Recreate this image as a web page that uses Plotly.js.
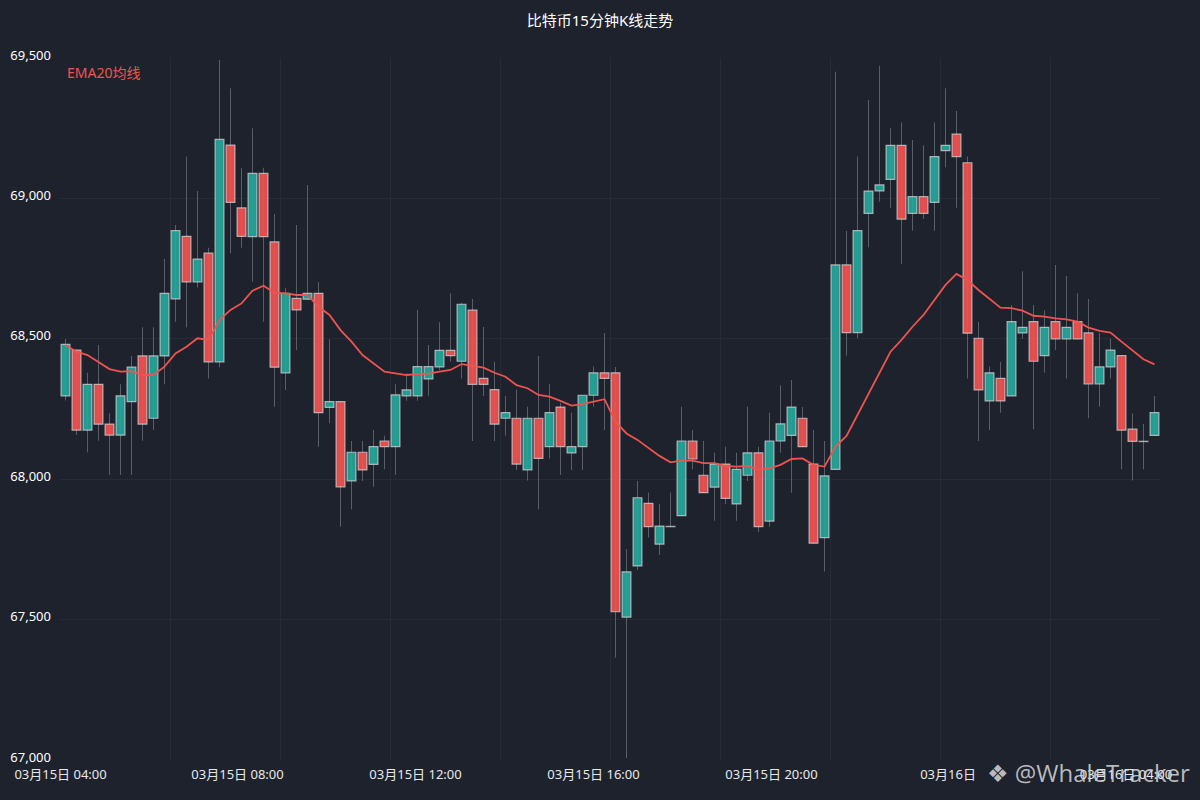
<!DOCTYPE html>
<html>
<head>
<meta charset="utf-8">
<script src="https://cdn.plot.ly/plotly-3.0.1.min.js"></script>
<style>
  html, body { margin: 0; padding: 0; background: #1e222d; }
  #chart { width: 1200px; height: 800px; }
</style>
</head>
<body>
<div id="chart"></div>
<script>
// 15分钟K线, 100 根
var open_px = [
    68297, 68460, 68175, 68338, 68196, 68157, 68276, 68439, 68217, 68439,
    68642, 68865, 68703, 68805, 68418, 69190, 68966, 68864, 69089, 68845,
    68379, 68644, 68641, 68662, 68256, 68276, 67994, 68096, 68053, 68136,
    68116, 68297, 68297, 68357, 68400, 68459, 68420, 68602, 68359, 68319,
    68217, 68217, 68033, 68217, 68116, 68257, 68094, 68116, 68299, 68379,
    68379, 67509, 67691, 67914, 67769, 67831, 67870, 68136, 68014, 67972,
    68054, 67912, 68014, 68094, 67851, 68136, 68156, 68217, 68054, 67792,
    68035, 68763, 68522, 68947, 69027, 69068, 69189, 68947, 69006, 68986,
    69170, 69229, 69127, 68502, 68279, 68359, 68297, 68521, 68561, 68440,
    68561, 68500, 68561, 68521, 68339, 68400, 68440, 68178, 68134, 68156
];
var high_px = [
    68499, 68462, 68379, 68478, 68235, 68338, 68439, 68541, 68541, 68784,
    68905, 69149, 69026, 68824, 69493, 69392, 69107, 69250, 69109, 68944,
    68682, 68905, 69048, 68701, 68498, 68278, 68136, 68136, 68175, 68155,
    68338, 68377, 68603, 68478, 68559, 68662, 68628, 68642, 68542, 68418,
    68296, 68319, 68258, 68439, 68338, 68272, 68237, 68300, 68401, 68521,
    68400, 67751, 67994, 67953, 67912, 67953, 68258, 68175, 68136, 68094,
    68116, 68094, 68258, 68116, 68237, 68335, 68353, 68257, 68175, 68136,
    69451, 68884, 69149, 69350, 69472, 69250, 69270, 69208, 69189, 69270,
    69392, 69311, 69149, 68561, 68401, 68417, 68620, 68741, 68620, 68602,
    68763, 68724, 68662, 68642, 68521, 68500, 68442, 68235, 68197, 68296
];
var low_px = [
    68280, 68157, 68096, 68137, 68015, 68015, 68015, 68137, 68175, 68338,
    68561, 68541, 68683, 68359, 68399, 68805, 68824, 68703, 68561, 68258,
    68318, 68460, 68638, 68116, 68199, 67831, 67893, 67994, 67973, 68035,
    68015, 68279, 68279, 68297, 68389, 68418, 68359, 68136, 68296, 68136,
    68155, 68033, 67995, 67893, 68074, 68015, 68033, 68033, 68258, 68175,
    67364, 67007, 67677, 67792, 67730, 67830, 67869, 68035, 67951, 67852,
    67912, 67852, 67994, 67812, 67831, 68094, 67952, 68115, 67769, 67671,
    68033, 68440, 68502, 68826, 68988, 68967, 68766, 68885, 68927, 68885,
    69111, 68967, 68359, 68136, 68175, 68237, 68296, 68500, 68178, 68379,
    68460, 68359, 68499, 68217, 68258, 68359, 68035, 67995, 68035, 68154
];
var close_px = [
    68480, 68175, 68338, 68196, 68157, 68297, 68399, 68196, 68439, 68662,
    68885, 68703, 68784, 68418, 69210, 68986, 68865, 69089, 68864, 68399,
    68662, 68603, 68662, 68237, 68276, 67973, 68096, 68033, 68116, 68116,
    68300, 68318, 68401, 68401, 68459, 68440, 68623, 68338, 68338, 68196,
    68237, 68054, 68217, 68074, 68237, 68116, 68116, 68299, 68379, 68359,
    67528, 67670, 67934, 67831, 67833, 67832, 68136, 68072, 67952, 68054,
    67932, 68035, 68094, 67831, 68136, 68197, 68257, 68116, 67772, 68012,
    68763, 68522, 68885, 69026, 69048, 69189, 68926, 69006, 68947, 69149,
    69189, 69149, 68520, 68318, 68379, 68279, 68561, 68541, 68420, 68541,
    68500, 68541, 68500, 68339, 68400, 68460, 68175, 68135, 68135, 68237
];
var ema20 = [
    68478, 68454, 68442, 68418, 68392, 68383, 68385, 68371, 68371, 68401,
    68448, 68472, 68502, 68496, 68567, 68603, 68626, 68671, 68689, 68664,
    68662, 68656, 68656, 68614, 68585, 68531, 68490, 68442, 68413, 68383,
    68377, 68371, 68374, 68376, 68383, 68389, 68410, 68403, 68397, 68379,
    68365, 68335, 68324, 68300, 68294, 68279, 68262, 68267, 68276, 68285,
    68205, 68163, 68140, 68110, 68083, 68060, 68066, 68066, 68057, 68057,
    68047, 68045, 68047, 68033, 68039, 68051, 68072, 68074, 68051, 68045,
    68116, 68154, 68229, 68306, 68383, 68454, 68496, 68543, 68585, 68638,
    68692, 68731, 68709, 68674, 68641, 68611, 68609, 68600, 68582, 68579,
    68573, 68569, 68561, 68540, 68528, 68522, 68490, 68458, 68427, 68409
];

var tick_pos = [-0.45, 15.64, 31.82, 48.0, 64.18, 80.23, 96.4];
var tick_labels = [
    "03月15日 04:00", "03月15日 08:00", "03月15日 12:00", "03月15日 16:00",
    "03月15日 20:00", "03月16日", "03月16日 04:00"
];

var up_color = "#26a69a";
var down_color = "#ef5350";

var idx = [], body_base = [], body_len = [], body_col = [], wick_len = [];
for (var i = 0; i < open_px.length; i++) {
    idx.push(i);
    body_base.push(Math.min(open_px[i], close_px[i]));
    body_len.push(Math.abs(close_px[i] - open_px[i]));
    body_col.push(close_px[i] >= open_px[i] ? up_color : down_color);
    wick_len.push(high_px[i] - low_px[i]);
}

var wicks = {
    type: "bar",
    x: idx,
    base: low_px,
    y: wick_len,
    width: 0.09,
    marker: { color: "#5b5f6a", line: { width: 0 } },
    hoverinfo: "skip",
};

var bodies = {
    type: "bar",
    x: idx,
    base: body_base,
    y: body_len,
    width: 0.8,
    opacity: 0.93,
    marker: {
        color: body_col,
        line: { color: "rgba(225,225,225,0.75)", width: 1.2 },
    },
    hoverinfo: "skip",
};

var ema_line = {
    type: "scatter",
    mode: "lines",
    x: idx,
    y: ema20,
    line: { color: "#ef5350", width: 1.8 },
    hoverinfo: "skip",
};

var layout = {
    width: 1200,
    height: 800,
    paper_bgcolor: "#1e222d",
    plot_bgcolor: "#1e222d",
    margin: { l: 60, r: 40, t: 58, b: 40 },
    showlegend: false,
    hovermode: false,
    barmode: "overlay",
    font: { family: 'Noto Sans, "Noto Sans CJK SC", sans-serif', color: "#e8e8e8", size: 13 },
    title: {
        text: "比特币15分钟K线走势",
        font: { size: 15, color: "#ffffff" },
        x: 0.5,
        xanchor: "center",
        y: 0.974,
        yanchor: "middle",
    },
    xaxis: {
        range: [-0.5, 99.5],
        tickmode: "array",
        tickvals: tick_pos,
        ticktext: tick_labels,
        ticks: "",
        showgrid: false,
        zeroline: false,
        showline: false,
        ticklabelstandoff: 5,
        ticklabeloverflow: "allow",
        tickfont: { size: 13, color: "#e8e8e8" },
        minor: {
            tickmode: "linear",
            tick0: -0.5,
            dtick: 10,
            showgrid: true,
            gridcolor: "#272b37",
            gridwidth: 1,
            ticks: "",
        },
    },
    yaxis: {
        range: [67000, 69500],
        dtick: 500,
        tick0: 67000,
        tickformat: ",",
        showgrid: true,
        gridcolor: "#272b37",
        zeroline: false,
        ticks: "",
        ticklabelstandoff: 8,
        ticklabelshift: -3,
        ticklabeloverflow: "allow",
        tickfont: { size: 13, color: "#ffffff" },
    },
    annotations: [
        {
            text: "EMA20均线",
            xref: "paper", yref: "paper",
            x: 0.0045, y: 0.98,
            xanchor: "left", yanchor: "middle",
            showarrow: false,
            font: { size: 14, color: "#ef5350" },
        },
        {
            text: "❖ @WhaleTracker",
            xref: "paper", yref: "paper",
            x: 1.0293, y: -0.0185,
            xanchor: "right", yanchor: "middle",
            showarrow: false,
            font: { size: 24, color: "rgba(215,215,215,0.85)", family: "Open Sans, DejaVu Sans, sans-serif" },
        },
    ],
};

Plotly.newPlot("chart", [wicks, bodies, ema_line], layout, { displayModeBar: false, staticPlot: true });
</script>
</body>
</html>
